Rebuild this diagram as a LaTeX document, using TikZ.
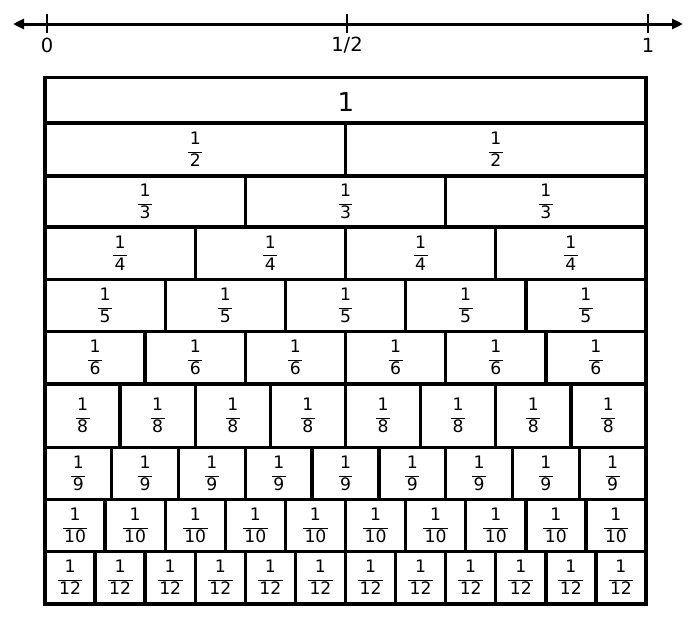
\documentclass[tikz,border=0pt]{standalone}
\usepackage{fontspec}
\setmainfont{DejaVu Sans}
\usetikzlibrary{arrows.meta}
\newcommand\fr[2]{{\setlength\arrayrulewidth{1pt}\renewcommand\arraystretch{1.1}\begin{tabular}{@{\kern1.5pt}c@{\kern1.5pt}}#1\\[1pt]\hline #2\end{tabular}}}
\begin{document}
\begin{tikzpicture}[x=1pt,y=-1pt,
  grid/.style={line width=3.4pt, line cap=rect},
  axis/.style={line width=3pt, {Triangle[length=11pt,width=10pt]}-{Triangle[length=11pt,width=10pt]}},
  tick/.style={line width=2pt},
  ticklab/.style={font=\fontsize{19.5}{22}\selectfont, inner sep=0pt},
  fraclab/.style={font=\fontsize{17.2}{18}\selectfont, inner sep=0pt}]
\useasboundingbox (0,0) rectangle (693,619);
% number line
\coordinate (L) at (13,24);
\coordinate (R) at (683,24);
\draw[axis] (L) -- (R);
\foreach \x/\t/\nm in {47/0/a, 347/1\slash 2/b, 648/1/c}{
  \coordinate (t\nm1) at (\x,14);
  \coordinate (t\nm2) at (\x,33);
  \draw[tick] (t\nm1) -- (t\nm2);
  \node[ticklab] (lab\nm) at (\x,45) {\t};
}
% frame
\draw[grid] (45,77.5) rectangle (646,604);
\node[font=\fontsize{26}{28}\selectfont, inner sep=0pt] (one) at (346,102) {1};
\foreach \n/\ya/\yb in {2/123/176, 3/176/227, 4/227/279.5, 5/279.5/331.5, 6/331.5/384, 8/384/447.5, 9/447.5/499.5, 10/499.5/551.5, 12/551.5/604}{
  \draw[grid] (45,\ya) -- (646,\ya);
  \foreach \k in {1,...,\n}{
    \pgfmathsetmacro\xc{45+(\k-0.5)*601/\n}
    \pgfmathsetmacro\ym{(\ya+\yb)/2+2}
    \node[fraclab] (c-\n-\k) at (\xc,\ym) {\fr{1}{\n}};
    \ifnum\k<\n
      \pgfmathsetmacro\xr{45+\k*601/\n}
      \draw[grid] (\xr,\ya) -- (\xr,\yb);
    \fi
  }
}
\end{tikzpicture}
\end{document}
